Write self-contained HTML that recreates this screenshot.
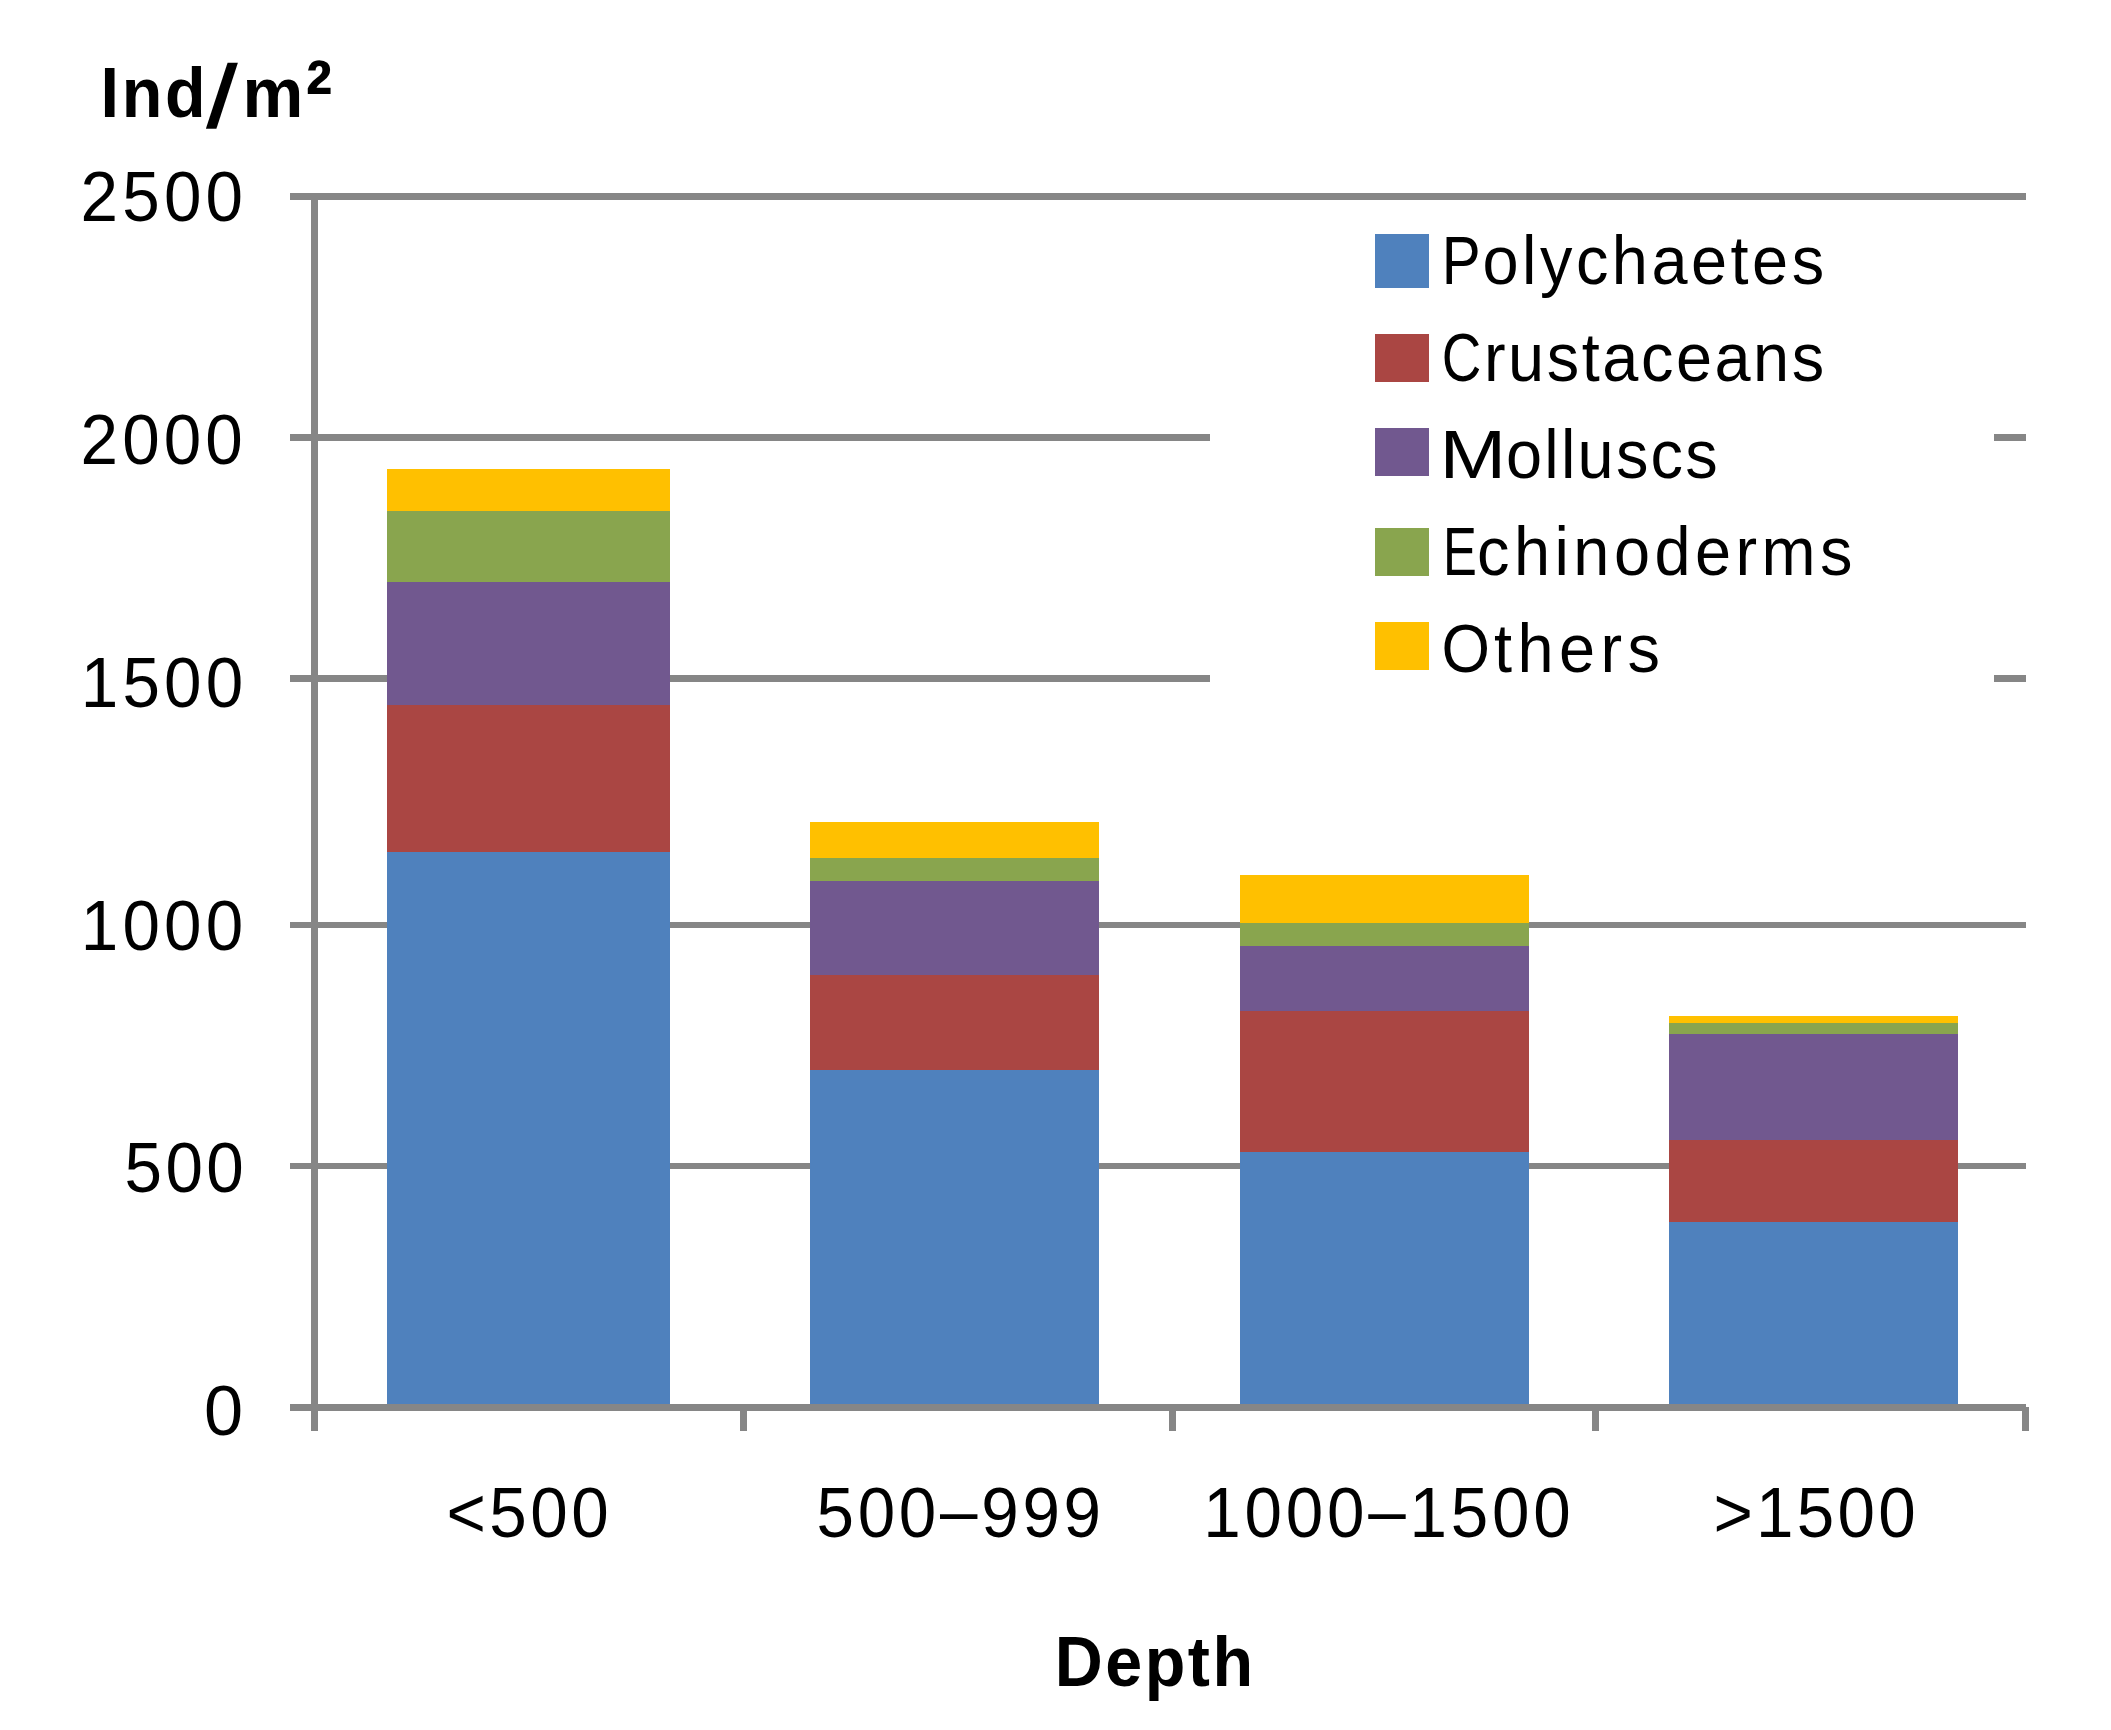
<!DOCTYPE html>
<html lang="en">
<head>
<meta charset="utf-8">
<title>Ind/m² by Depth</title>
<style>
html,body{margin:0;padding:0;background:#fff;}
body{width:2111px;height:1730px;overflow:hidden;}
svg{display:block;}
text{font-family:"Liberation Sans",sans-serif;fill:#000;}
.g{fill:#868686;}
.c1{fill:#4F81BD;}
.c2{fill:#AA4643;}
.c3{fill:#71588F;}
.c4{fill:#89A54E;}
.c5{fill:#FFC000;}
</style>
</head>
<body>
<svg width="2111" height="1730" viewBox="0 0 2111 1730" shape-rendering="crispEdges">
<rect x="0" y="0" width="2111" height="1730" fill="#fff"/>

<!-- horizontal gridlines (interrupted by the legend box) -->
<g class="g">
<rect x="290" y="193" width="1736" height="7"/>
<rect x="290" y="434" width="920" height="7"/>
<rect x="1994" y="434" width="32" height="7"/>
<rect x="290" y="675" width="920" height="7"/>
<rect x="1994" y="675" width="32" height="7"/>
<rect x="290" y="922" width="1736" height="6"/>
<rect x="290" y="1163" width="1736" height="6"/>
</g>

<!-- stacked bars -->
<g id="bar1">
<rect class="c5" x="387" y="469" width="283" height="42"/>
<rect class="c4" x="387" y="511" width="283" height="71"/>
<rect class="c3" x="387" y="582" width="283" height="123"/>
<rect class="c2" x="387" y="705" width="283" height="147"/>
<rect class="c1" x="387" y="852" width="283" height="555"/>
</g>
<g id="bar2">
<rect class="c5" x="810" y="822" width="289" height="36"/>
<rect class="c4" x="810" y="858" width="289" height="23"/>
<rect class="c3" x="810" y="881" width="289" height="94"/>
<rect class="c2" x="810" y="975" width="289" height="95"/>
<rect class="c1" x="810" y="1070" width="289" height="337"/>
</g>
<g id="bar3">
<rect class="c5" x="1240" y="875" width="289" height="48"/>
<rect class="c4" x="1240" y="923" width="289" height="23"/>
<rect class="c3" x="1240" y="946" width="289" height="65"/>
<rect class="c2" x="1240" y="1011" width="289" height="141"/>
<rect class="c1" x="1240" y="1152" width="289" height="255"/>
</g>
<g id="bar4">
<rect class="c5" x="1669" y="1016" width="289" height="7"/>
<rect class="c4" x="1669" y="1023" width="289" height="11"/>
<rect class="c3" x="1669" y="1034" width="289" height="106"/>
<rect class="c2" x="1669" y="1140" width="289" height="82"/>
<rect class="c1" x="1669" y="1222" width="289" height="185"/>
</g>

<!-- axes and tick marks -->
<g class="g">
<rect x="290" y="1404" width="1736" height="7"/>
<rect x="311" y="193" width="7" height="1238"/>
<rect x="740" y="1404" width="7" height="27"/>
<rect x="1169" y="1404" width="7" height="27"/>
<rect x="1592" y="1404" width="7" height="27"/>
<rect x="2022" y="1407" width="7" height="24"/>
</g>

<!-- legend swatches -->
<rect class="c1" x="1375" y="234" width="54" height="54"/>
<rect class="c2" x="1375" y="334" width="54" height="48"/>
<rect class="c3" x="1375" y="428" width="54" height="48"/>
<rect class="c4" x="1375" y="528" width="54" height="48"/>
<rect class="c5" x="1375" y="622" width="54" height="48"/>
<!-- legend labels -->
<g>
<text transform="translate(1441.7 284) scale(0.845 1)" font-size="69">P</text><text transform="translate(1482.5 284) scale(0.94 1)" font-size="69" textLength="363.4" lengthAdjust="spacing">olychaetes</text>
<text transform="translate(1441.8 381) scale(0.793 1)" font-size="69">C</text><text transform="translate(1484.0 381) scale(0.94 1)" font-size="69" textLength="361.9" lengthAdjust="spacing">rustaceans</text>
<text transform="translate(1439.6 478) scale(1.161 1)" font-size="69">M</text><text transform="translate(1506.0 478) scale(0.94 1)" font-size="69" textLength="225.2" lengthAdjust="spacing">olluscs</text>
<text transform="translate(1442.9 575) scale(0.736 1)" font-size="69">E</text><text transform="translate(1477.0 575) scale(0.94 1)" font-size="69" textLength="399.5" lengthAdjust="spacing">chinoderms</text>
<text transform="translate(1441.5 672) scale(0.903 1)" font-size="69">O</text><text transform="translate(1494.0 672) scale(0.94 1)" font-size="69" textLength="176.6" lengthAdjust="spacing">thers</text>
</g>
<!-- value axis labels -->
<g>
<text transform="translate(80.6 221) scale(0.97 1)" font-size="69.5" textLength="167.5" lengthAdjust="spacing">2500</text>
<text transform="translate(80.6 464) scale(0.97 1)" font-size="69.5" textLength="167.3" lengthAdjust="spacing">2000</text>
<text transform="translate(80.7 707) scale(0.97 1)" font-size="69.5" textLength="167.6" lengthAdjust="spacing">1500</text>
<text transform="translate(80.7 950) scale(0.97 1)" font-size="69.5" textLength="167.6" lengthAdjust="spacing">1000</text>
<text transform="translate(124.5 1192) scale(0.97 1)" font-size="69.5" textLength="123.0" lengthAdjust="spacing">500</text>
<text transform="translate(204.1 1435) scale(1.011 1)" font-size="69.5">0</text>
</g>
<!-- category axis labels -->
<g>
<text transform="translate(446.4 1537) scale(0.97 1)" font-size="69.5" textLength="167.5" lengthAdjust="spacing">&lt;500</text>
<text transform="translate(816.5 1537) scale(0.97 1)" font-size="69.5" textLength="293.4" lengthAdjust="spacing">500<tspan dy="-2.5">–</tspan><tspan dy="2.5">999</tspan></text>
<text transform="translate(1203.3 1537) scale(0.97 1)" font-size="69.5" textLength="378.8" lengthAdjust="spacing">1000<tspan dy="-2.5">–</tspan><tspan dy="2.5">1500</tspan></text>
<text transform="translate(1713.4 1537) scale(0.97 1)" font-size="69.5" textLength="208.7" lengthAdjust="spacing">&gt;1500</text>
</g>
<!-- value axis title -->
<g font-weight="bold">
<text transform="translate(100.5 117) scale(0.95 1)" font-size="70" textLength="110.7" lengthAdjust="spacing">Ind</text><text transform="translate(205.3 127) skewX(-7.8) scale(1.0 1)" font-size="88.8">/</text><text transform="translate(242.4 117) scale(0.977 1)" font-size="70">m</text><text transform="translate(305.8 126.2) scale(0.854 1)" font-size="93.3">²</text>
</g>
<!-- category axis title -->
<g font-weight="bold">
<text transform="translate(1054.7 1686) scale(0.95 1)" font-size="70" textLength="208.9" lengthAdjust="spacing">Depth</text>
</g>
</svg>
</body>
</html>
